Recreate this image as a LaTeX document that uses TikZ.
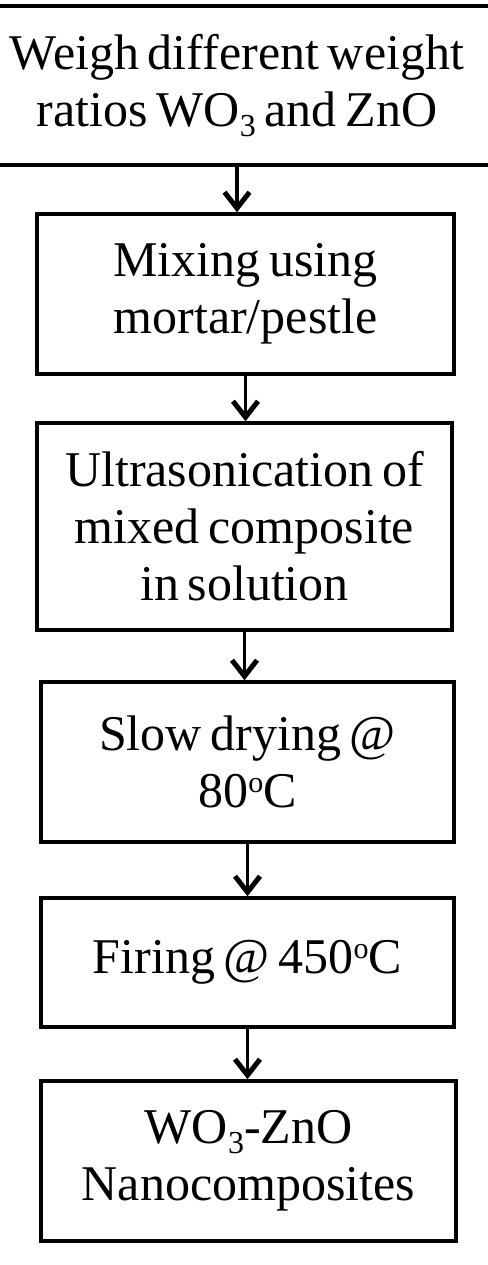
\documentclass[tikz,border=0pt]{standalone}
\usepackage{fontspec}
\setmainfont{Liberation Serif}[WordSpace=0.7]
\usetikzlibrary{arrows.meta}
\newcommand{\degsup}{\raisebox{0.3em}{\fontsize{30}{30}\selectfont o}}
\newcommand{\subthree}{\raisebox{-0.2em}{\fontsize{32}{32}\selectfont 3}}
\tikzset{
  stepbox/.style={draw=black, line width=3.5pt, inner sep=0pt, align=center,
    font=\fontsize{50}{57}\selectfont, text=black},
  arr/.style={line width=3.5pt, -{Straight Barb[length=16pt,width=25pt,line width=5pt]}}
}
\begin{document}
\begin{tikzpicture}[x=1pt,y=1pt]
\useasboundingbox (0,0) rectangle (487,-1265);
\fill[white] (0,0) rectangle (487,-1265);
\node[stepbox, minimum width=560pt, minimum height=159pt] (b1) at (237,-85.5)
  {Weigh different weight\\ratios WO\subthree\ and ZnO};
\node[stepbox, minimum width=417pt, minimum height=160pt] (b2) at (245.5,-294)
  {Mixing using\\mortar/pestle};
\node[stepbox, minimum width=415pt, minimum height=207pt] (b3) at (244.5,-526.5)
  {Ultrasonication of\\mixed composite\\in solution};
\node[stepbox, minimum width=413pt, minimum height=160pt] (b4) at (247.5,-762)
  {Slow drying @\\80\degsup C};
\node[stepbox, minimum width=413pt, minimum height=129pt] (b5) at (247.5,-962.5)
  {Firing @ 450\degsup C};
\node[stepbox, minimum width=415pt, minimum height=160pt] (b6) at (248.5,-1161)
  {WO\subthree-ZnO\\Nanocomposites};
\draw[arr] (b1.south) -- (b1.south |- b2.north);
\draw[arr] (b2.south) -- (b2.south |- b3.north);
\draw[arr] (b3.south) -- (b3.south |- b4.north);
\draw[arr] (b4.south) -- (b4.south |- b5.north);
\draw[arr] (b5.south) -- (b5.south |- b6.north);
\end{tikzpicture}
\end{document}
